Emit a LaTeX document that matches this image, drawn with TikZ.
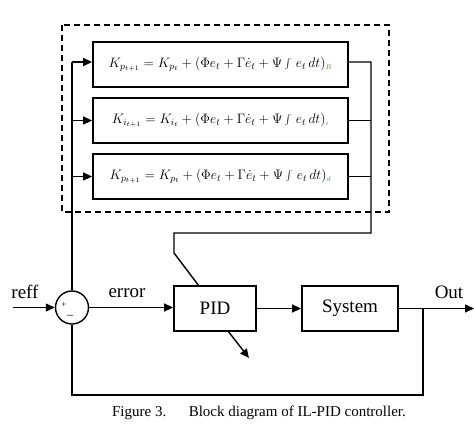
\documentclass[tikz,border=0pt]{standalone}
\usepackage{fix-cm}
\usepackage{fontspec}
\setmainfont{Liberation Serif}
\usetikzlibrary{arrows.meta,calc}
\definecolor{subg}{rgb}{0.35,0.55,0.35}
\begin{document}
\begin{tikzpicture}[x=1pt,y=-1pt,line width=1.4pt,
  blk/.style={draw,line width=1.8pt,inner sep=0pt,minimum height=45pt},
  frm/.style={blk,minimum width=255pt,font=\fontsize{13.7}{15}\selectfont},
  arr/.style={-{Triangle[length=9pt,width=8pt]}},
  lbl/.style={font=\fontsize{19}{19}\selectfont,inner sep=0pt}]
\useasboundingbox (0,0) rectangle (474,432);

% dashed frame
\draw[dashed,line width=1.4pt,dash pattern=on 6pt off 4pt] (62,25) rectangle (389,212);

% formula boxes
\node[frm] (b1) at (220.5,64.5) {$K_{p_{t+1}} = K_{p_t} + (\Phi e_t + \Gamma \dot{e}_t + \Psi \int\, e_t\, dt)_{\scriptscriptstyle\color{subg}R}$};
\node[frm] (b2) at (220.5,120.5) {$K_{i_{t+1}} = K_{i_t} + (\Phi e_t + \Gamma \dot{e}_t + \Psi \int\, e_t\, dt)_{\scriptscriptstyle\color{subg}i}$};
\node[frm] (b3) at (220.5,176.5) {$K_{p_{t+1}} = K_{p_t} + (\Phi e_t + \Gamma \dot{e}_t + \Psi \int\, e_t\, dt)_{\scriptscriptstyle\color{subg}d}$};

% summing junction
\node[draw,circle,line width=1.4pt,minimum size=33pt,inner sep=0pt] (sum) at (72,307.5) {};
\node[font=\fontsize{9}{9}\selectfont,inner sep=0pt] (plus) at (64,305) {+};
\node[font=\fontsize{12}{12}\selectfont,inner sep=0pt] (minus) at (70,317) {--};

% main blocks
\node[blk,minimum width=82pt,lbl] (pid) at (215,308.5) {PID};
\node[blk,minimum width=96pt,lbl] (sys) at (350,308.5) {System};

% labels
\node[lbl] (reff) at (25,292) {reff};
\node[lbl] (err) at (127,293) {error};
\node[lbl] (out) at (449,292) {Out};

% coordinates
\coordinate (in) at (13,307.5);
\coordinate (outend) at (474,308.5);
\coordinate (tap) at (423,308.5);
\coordinate (bot) at (423,395);
\coordinate (rx) at (371,62);
\coordinate (r1) at (371,233);
\coordinate (r2) at (174,233);
\coordinate (r3) at (174,253);
\coordinate (r4) at (199,286);
\coordinate (ao1) at (228,331);
\coordinate (ao2) at (249,358);

% signal flow
\draw[arr] (in) -- (sum.west);
\draw[arr] (sum.east) -- (sum.east -| pid.west);
\draw[arr] (pid.east) -- (sys.west);
\draw[arr] (sys.east) -- (outend);
\draw (tap) -- (bot) -| (sum.south);

% left feedback into formula boxes
\draw (sum.north) -- (sum.north |- rx);
\draw[arr] (sum.north |- rx) -- (b1.west |- rx);
\draw[arr] (sum.north |- b2.west) -- (b2.west);
\draw[arr] (sum.north |- b3.west) -- (b3.west);

% right collection
\draw (b1.east |- rx) -- (rx) -- (r1) -- (r2) -- (r3) -- (r4);
\draw (b2.east) -- (b2.east -| rx);
\draw (b3.east) -- (b3.east -| rx);

% PID output arrow
\draw[arr] (ao1) -- (ao2);

% caption
\node[font=\fontsize{15}{15}\selectfont,inner sep=0pt] (cap) at (259,413) {Figure 3.\hspace{1.5em}Block diagram of IL-PID controller.};
\end{tikzpicture}
\end{document}
